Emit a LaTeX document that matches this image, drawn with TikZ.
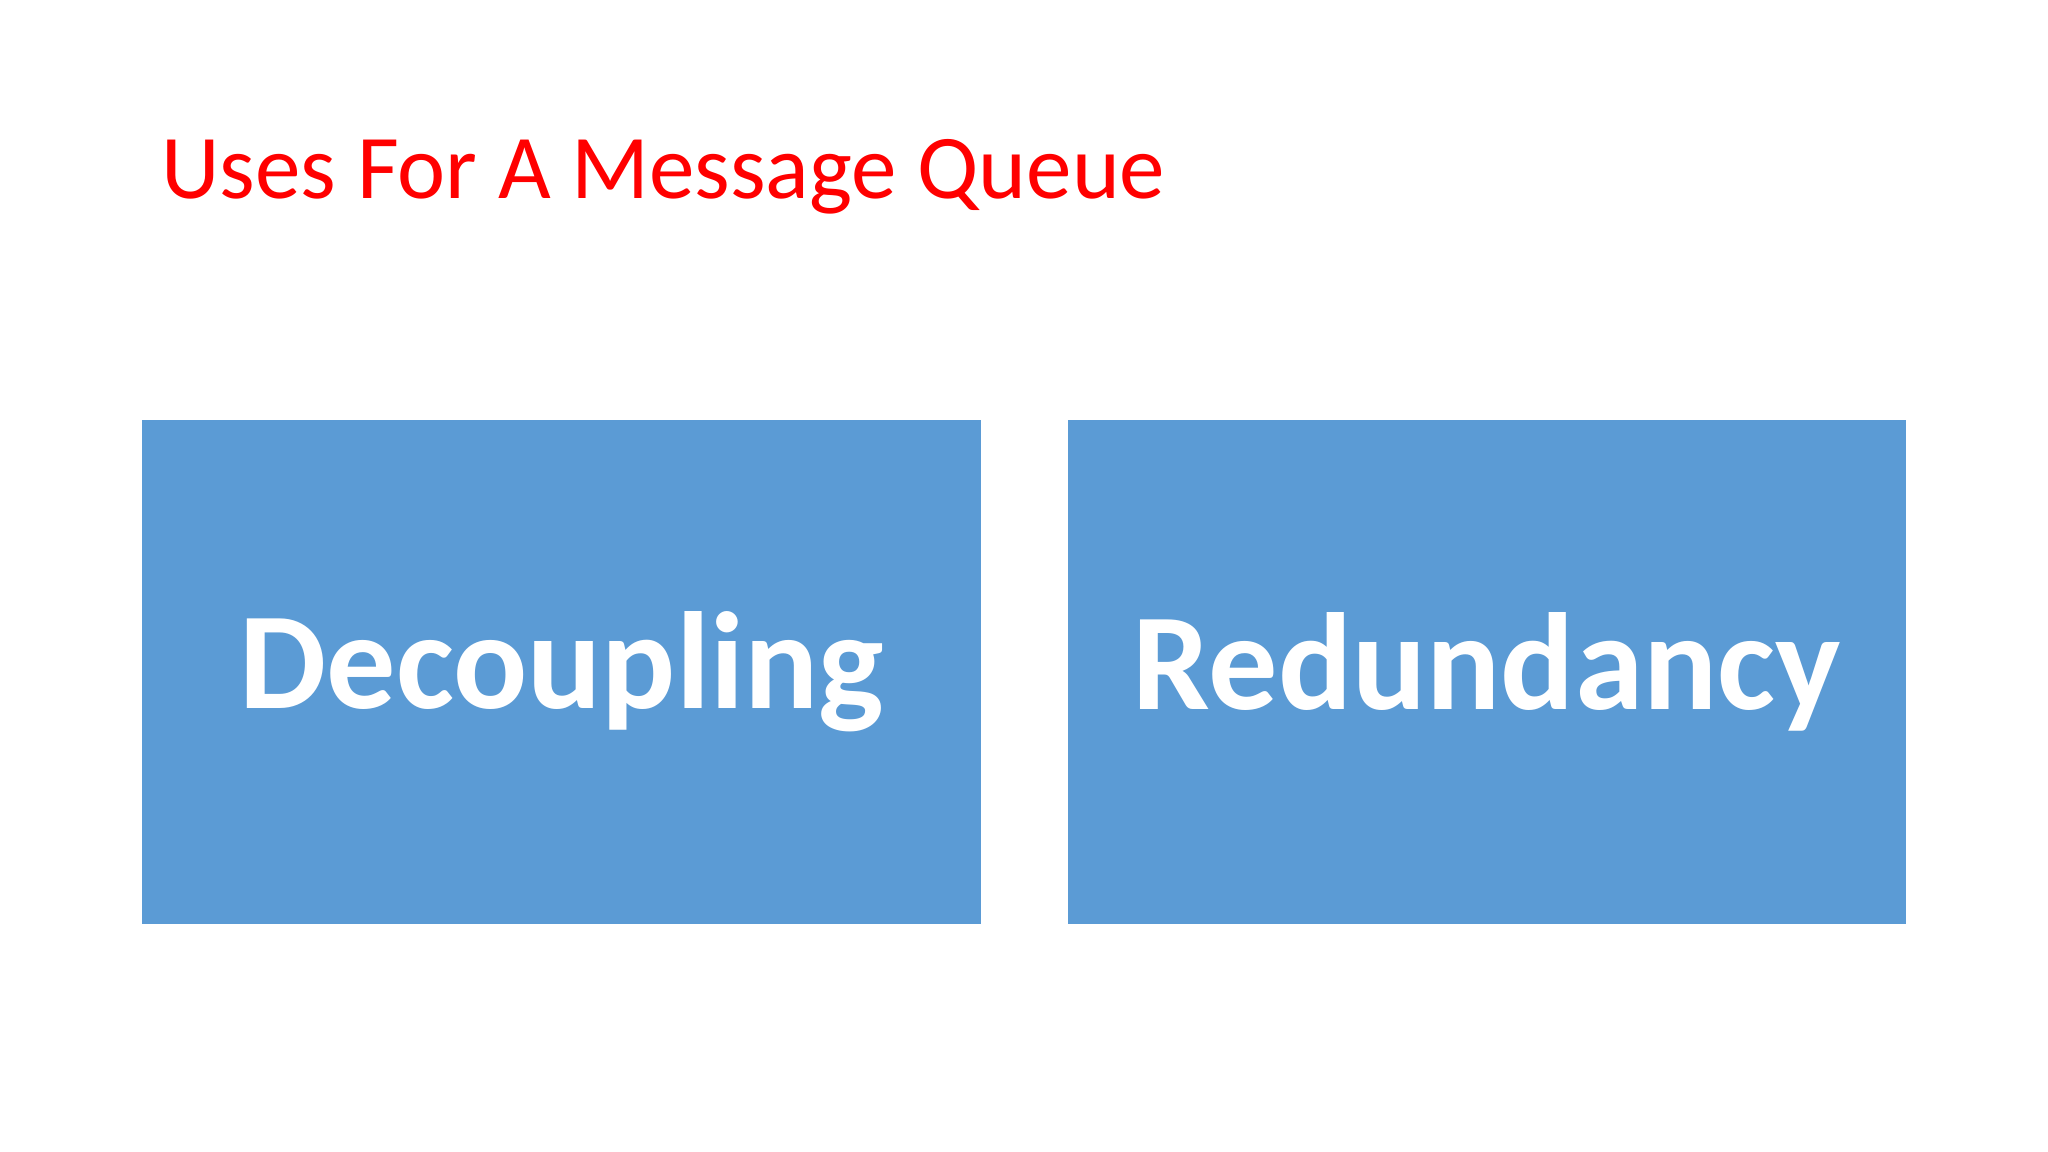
\documentclass[tikz,border=0pt]{standalone}
\usepackage{fontspec}
\setmainfont{Carlito}
\usepackage{tikz}
\usetikzlibrary{positioning}
\definecolor{slideblue}{HTML}{5B9BD5}
\definecolor{slidered}{HTML}{FF0000}
\tikzset{title node/.style={anchor=base west, inner sep=0pt, text=slidered,
    font=\fontsize{42.7}{51}\selectfont}}
\tikzset{use node/.style={rectangle, fill=slideblue, draw=none, inner sep=0pt,
    minimum width=393pt, minimum height=235.8pt, text=white,
    font=\fontsize{64.8}{78}\selectfont\bfseries}}

\begin{document}
\begin{tikzpicture}
      [x=0.46875pt, y=-0.46875pt, node distance=40.3pt]
      \useasboundingbox [fill=white] (0,0) rectangle (2048,1152);
      \node [title node] (title) at (161,199) {Uses For A Message Queue};
      \node [use node]   (decoupling) at (561.5,672) {Decoupling};
      \node [use node, right=of decoupling] (redundancy) {Redundancy};
    \end{tikzpicture}
\end{document}
